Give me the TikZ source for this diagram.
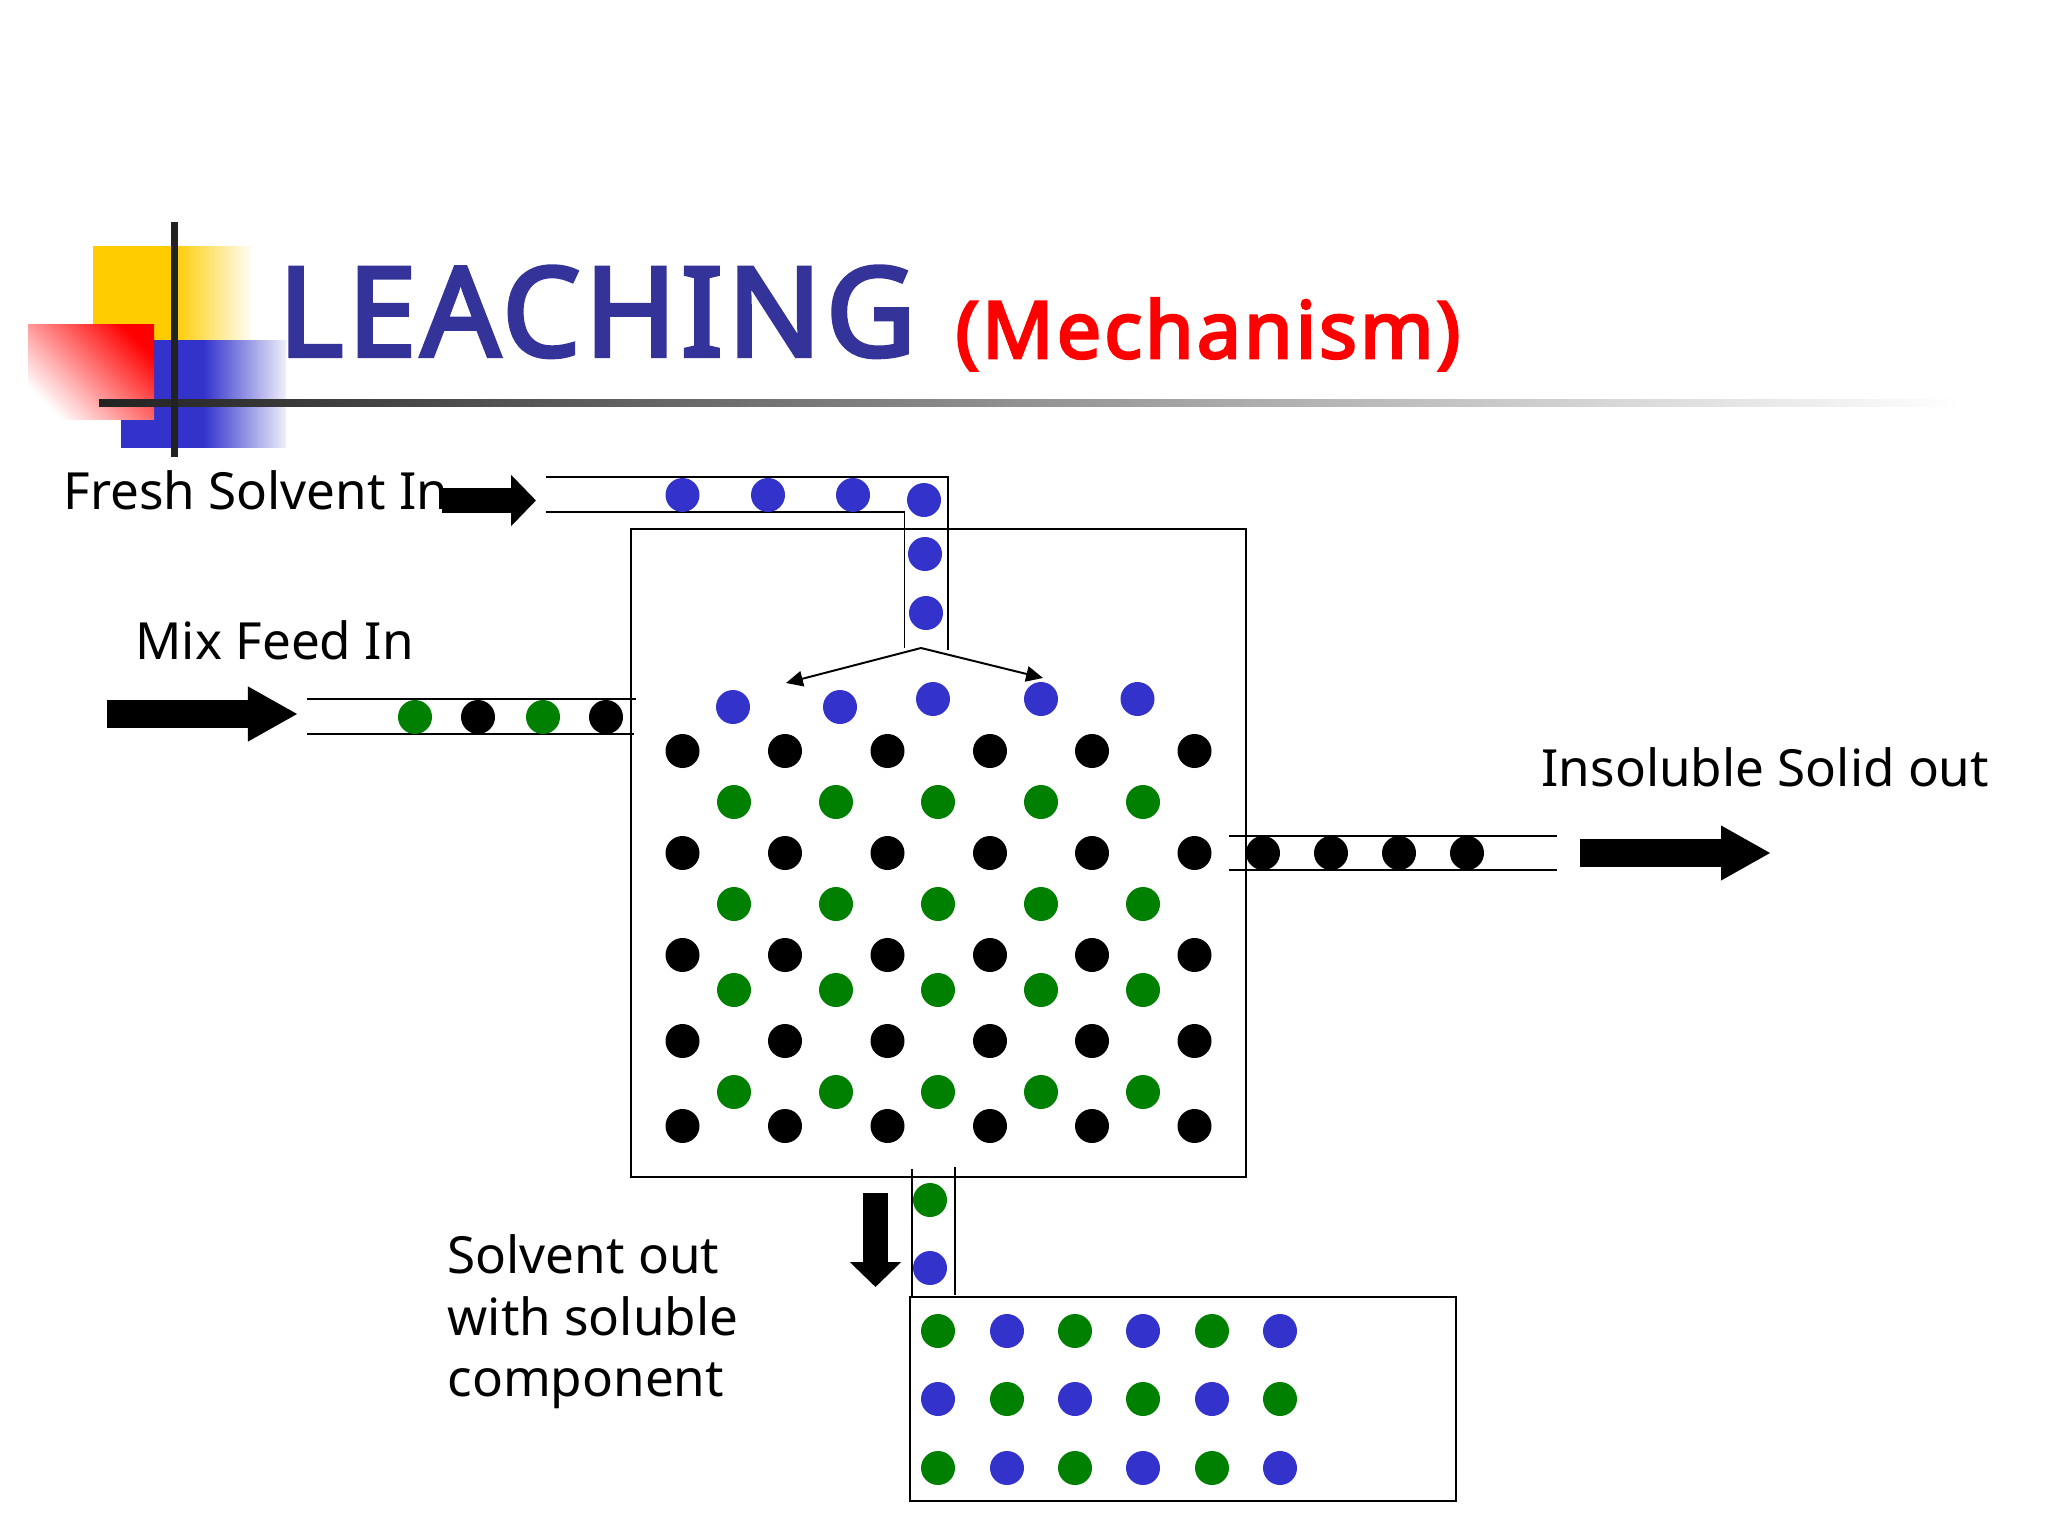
\documentclass[tikz,border=0pt]{standalone}
\usepackage{fontspec}
\setmainfont{Noto Sans}
\newfontfamily\titlefont{Noto Sans}[FakeBold=3.4]
\usetikzlibrary{arrows.meta}
\definecolor{dotblue}{HTML}{3333CC}
\definecolor{dotgreen}{HTML}{008000}
\definecolor{titleblue}{HTML}{333399}
\definecolor{logoyellow}{HTML}{FFCC00}
\definecolor{barblack}{HTML}{222222}
\tikzset{
	>={Triangle[length=6pt,width=5.5pt]},
	ball/.style={
		circle,
		inner sep=0pt,
		minimum size=.425cm},
	blueball/.style={ball, fill=dotblue},
	greenball/.style={ball, fill=dotgreen},
	blackball/.style={ball, fill=black},
	vessel/.style={draw=black, line width=.75pt},
	pipe/.style={draw=black, line width=.7pt},
	fatarrow/.style={-{Triangle[length=.625cm,width=.64cm]}, line width=.35cm},
	smallarrow/.style={-{Triangle[length=.31cm,width=.62cm]}, line width=.31cm},
	label/.style={anchor=base west, inner sep=0pt, font=\fontsize{18.2pt}{22pt}\selectfont},
}

\begin{document}
\begin{tikzpicture}[x=.0125cm,y=-.0125cm]
	\useasboundingbox (0,0) rectangle (2048,1536);
	% logo
	\fill[left color=logoyellow, right color=white, middle color=logoyellow] (93,246) rectangle (254,340);
	\fill[left color=dotblue, right color=dotblue!8, middle color=dotblue] (121,340) rectangle (286,447);
	\fill[top color=red, bottom color=white, shading angle=-45] (28,324) rectangle (154,419);
	\fill[left color=barblack, right color=white, middle color=gray!85] (99,399) rectangle (1960,406);
	\fill[barblack] (171,222) rectangle (178,457);
	% title
	\node[anchor=base west, inner sep=0pt, text=titleblue, font=\fontsize{44pt}{50pt}\selectfont\titlefont\addfontfeature{LetterSpace=3.6}] (title) at (278,356) {LEACHING};
	\node[anchor=base west, inner sep=0pt, text=red, font=\fontsize{28pt}{32pt}\selectfont\titlefont\addfontfeature{LetterSpace=3.9}] (mech) at (955,358) {(Mechanism)};
	% labels
	\node[label] (fresh) at (63,509) {Fresh Solvent In};
	\node[label] (mix) at (135,659) {Mix Feed In};
	\node[label] (insol) at (1541,786) {Insoluble Solid out};
	\node[label] (solv1) at (447,1273) {Solvent out};
	\node[label] (solv2) at (447,1335) {with soluble};
	\node[label] (solv3) at (447,1396) {component};
	% vessels
	\node[vessel, minimum width=7.6875cm, minimum height=8.1cm, inner sep=0pt] (leacher) at (938.5,853) {};
	\node[vessel, minimum width=6.825cm, minimum height=2.55cm, inner sep=0pt] (tank) at (1183,1399) {};
	% pipe walls
	\coordinate (fa) at (546,477);
	\coordinate (fb) at (948,477);
	\coordinate (fc) at (948,650);
	\coordinate (fd) at (546,512);
	\coordinate (fe) at (904.5,512);
	\coordinate (ff) at (904.5,648);
	\draw[pipe] (fa) -- (fb) -- (fc);
	\draw[pipe] (fd) -- (fe) -- (ff);
	\coordinate (ma) at (307,699);
	\coordinate (mb) at (636,699);
	\coordinate (mc) at (307,734);
	\coordinate (md) at (634,734);
	\draw[pipe] (ma) -- (mb);
	\draw[pipe] (mc) -- (md);
	\coordinate (sa) at (1229,836);
	\coordinate (sb) at (1557,836);
	\coordinate (sc) at (1229,870);
	\coordinate (sd) at (1557,870);
	\draw[pipe] (sa) -- (sb);
	\draw[pipe] (sc) -- (sd);
	\coordinate (oa) at (912,1169);
	\coordinate (ob) at (912,1296);
	\coordinate (oc) at (955,1167);
	\coordinate (od) at (955,1295);
	\draw[pipe] (oa) -- (ob);
	\draw[pipe] (oc) -- (od);
	% big arrows
	\coordinate (freshS) at (442,500.5);
	\coordinate (freshE) at (536,500.5);
	\draw[smallarrow] (freshS) -- (freshE);
	\coordinate (mixS) at (107,714);
	\coordinate (mixE) at (298,714);
	\draw[fatarrow] (mixS) -- (mixE);
	\coordinate (insolS) at (1580,853);
	\coordinate (insolE) at (1771,853);
	\draw[fatarrow] (insolS) -- (insolE);
	\coordinate (solvS) at (875.5,1193);
	\coordinate (solvE) at (875.5,1287);
	\draw[smallarrow] (solvS) -- (solvE);
	% spreading of the solvent
	\coordinate (split) at (921,648);
	\coordinate (splitL) at (786,683);
	\coordinate (splitR) at (1043,678);
	\draw[->, line width=.7pt] (split) -- (splitL);
	\draw[->, line width=.7pt] (split) -- (splitR);
	% solvent in
	\foreach \n/\x/\y in {a/682.5/495, b/768/495, c/853/495, d/924/500, e/925/554, f/926/613, g/733/707, h/840/707, i/933/699, j/1041/699, k/1137.5/699}
		\node[blueball] (solvent\n) at (\x,\y) {};
	% feed
	\node[greenball] (feed1) at (415,717) {};
	\node[blackball] (feed2) at (478,717) {};
	\node[greenball] (feed3) at (543,717) {};
	\node[blackball] (feed4) at (606,717) {};
	% solids in the leacher
	\foreach \y in {751,853,955,1041,1126}
		\foreach \x in {682.5,785,887.5,990,1092,1194.5}
			\node[blackball] (solid\x-\y) at (\x,\y) {};
	\foreach \y in {802,904,990,1092}
		\foreach \x in {734,836,938,1041,1143}
			\node[greenball] (sol\x-\y) at (\x,\y) {};
	% solid out
	\foreach \x in {1263,1331,1399,1467}
		\node[blackball] (out\x) at (\x,853) {};
	% extract
	\node[greenball] (ext1) at (930,1200) {};
	\node[blueball] (ext2) at (930,1268) {};
	\foreach \x/\a/\b in {938/greenball/blueball, 1007/blueball/greenball, 1075/greenball/blueball, 1143/blueball/greenball, 1212/greenball/blueball, 1280/blueball/greenball}{
		\node[\a] (tank\x-a) at (\x,1331) {};
		\node[\b] (tank\x-b) at (\x,1399) {};
		\node[\a] (tank\x-c) at (\x,1468) {};
	}
\end{tikzpicture}
\end{document}
